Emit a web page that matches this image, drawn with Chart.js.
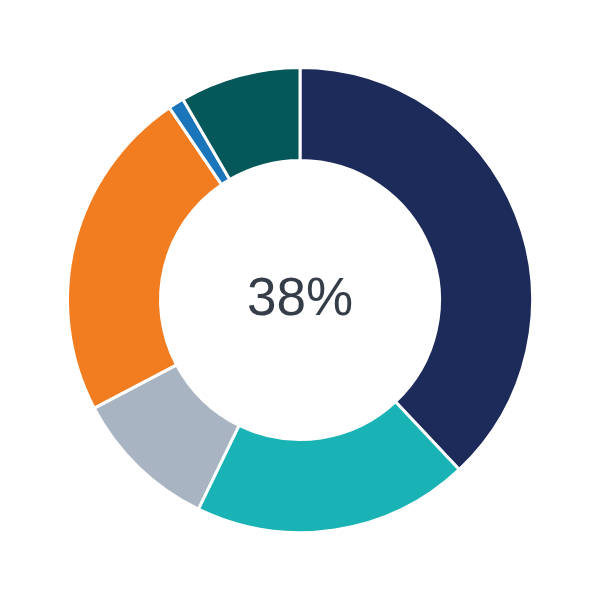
<!DOCTYPE html>
<html>
<head>
<meta charset="utf-8">
<script src="https://cdn.jsdelivr.net/npm/chart.js@4"></script>
<style>
  html, body { margin: 0; padding: 0; background: #fff; }
  #wrap { width: 600px; height: 600px; position: relative; }
</style>
</head>
<body>
<div id="wrap"><canvas id="donut"></canvas></div>
<script>
// segment shares, clockwise from top
const segments = ['A', 'B', 'C', 'D', 'E', 'F'];
const shares = [38, 19.2, 10.1, 23.2, 1.1, 8.4];
const colours = ['#1c2b5a', '#1ab3b5', '#a9b4c2', '#f27d21', '#1a75bb', '#04585a'];
const centreLabel = '38%';

// text in the middle of the ring
const centreText = {
  id: 'centreText',
  afterDraw(chart) {
    const { ctx, chartArea } = chart;
    const cx = (chartArea.left + chartArea.right) / 2;
    const cy = (chartArea.top + chartArea.bottom) / 2;
    ctx.save();
    ctx.font = '400 53px "Liberation Sans", Arial, sans-serif';
    ctx.fillStyle = '#343d48';
    ctx.textAlign = 'center';
    ctx.textBaseline = 'middle';
    ctx.fillText(centreLabel, cx, cy);
    ctx.restore();
  }
};

new Chart(document.getElementById('donut'), {
  type: 'doughnut',
  data: {
    labels: segments,
    datasets: [{
      data: shares,
      backgroundColor: colours,
      borderColor: '#ffffff',
      borderWidth: 3,
    }],
  },
  options: {
    responsive: true,
    maintainAspectRatio: false,
    animation: false,
    cutout: '60%',
    layout: { padding: 66 },
    plugins: {
      legend: { display: false },
      tooltip: { enabled: false },
    },
  },
  plugins: [centreText],
});
</script>
</body>
</html>
